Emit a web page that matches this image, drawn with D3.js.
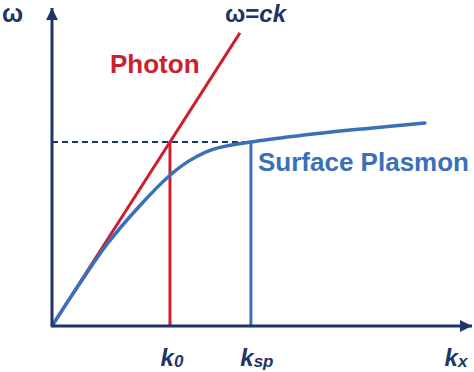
<!DOCTYPE html>
<html>
<head>
<meta charset="utf-8">
<script src="https://cdn.jsdelivr.net/npm/d3@7"></script>
<style>
  body { margin: 0; background: #fff; }
  svg { display: block; font-family: 'Liberation Sans', Arial, sans-serif; }
</style>
</head>
<body>
<div id="chart-area"></div>
<script>
// Dispersion sketch: photon light line vs surface plasmon

const width = 474;
const height = 372;

// Data (k in units of k0, omega in units of omega at the dashed level)
const photonK = [0, 1.593];            // photon line omega = c k, c = 1
const spK = [0, 0.237, 0.466, 0.746, 1.0, 1.169, 1.364, 1.686, 2.076, 2.636, 3.161];
const spW = [0, 0.232, 0.444, 0.655, 0.819, 0.900, 0.960, 1.0, 1.033, 1.071, 1.103];
const markK = [1.0, 1.686];           // k0, ksp
const omegaLevel = 1.0;
const tickNames = ['k', 'k', 'k'];
const tickSubs = ['0', 'sp', 'x'];
const xMax = 3.56;
const yMax = 1.728;

const navy = '#1d3567';
const red = '#c9222d';
const blue = '#3a70b8';

const x = d3.scaleLinear().domain([0, xMax]).range([52, 472]);
const y = d3.scaleLinear().domain([0, yMax]).range([326, 8]);

const svg = d3.select('#chart-area')
    .append('svg')
    .attr('width', width)
    .attr('height', height);

// arrow heads
const defs = svg.append('defs');
defs.append('marker')
    .attr('id', 'arrow')
    .attr('viewBox', '0 0 10 10')
    .attr('refX', 10)
    .attr('refY', 5)
    .attr('markerWidth', 4)
    .attr('markerHeight', 4)
    .attr('markerUnits', 'strokeWidth')
    .attr('orient', 'auto')
    .append('path')
    .attr('d', 'M0,0 L10,5 L0,10 Z')
    .attr('fill', navy);

// dashed level line
svg.append('line')
    .attr('x1', x(0)).attr('x2', x(markK[1]))
    .attr('y1', y(omegaLevel)).attr('y2', y(omegaLevel))
    .attr('stroke', navy)
    .attr('stroke-width', 2)
    .attr('stroke-dasharray', '6,4');

// vertical markers
svg.append('line')
    .attr('x1', x(markK[0])).attr('x2', x(markK[0]))
    .attr('y1', y(0)).attr('y2', y(omegaLevel))
    .attr('stroke', red)
    .attr('stroke-width', 3);

svg.append('line')
    .attr('x1', x(markK[1])).attr('x2', x(markK[1]))
    .attr('y1', y(0)).attr('y2', y(omegaLevel))
    .attr('stroke', blue)
    .attr('stroke-width', 3);

// photon line
svg.append('line')
    .attr('x1', x(photonK[0])).attr('y1', y(photonK[0]))
    .attr('x2', x(photonK[1])).attr('y2', y(photonK[1]))
    .attr('stroke', red)
    .attr('stroke-width', 3);

// surface plasmon curve
const spLine = d3.line()
    .x((d, i) => x(spK[i]))
    .y((d) => y(d))
    .curve(d3.curveCatmullRom.alpha(0.5));

svg.append('path')
    .attr('d', spLine(spW))
    .attr('fill', 'none')
    .attr('stroke', blue)
    .attr('stroke-width', 3.5)
    .attr('stroke-linecap', 'round');

// axes
svg.append('line')
    .attr('x1', x(0)).attr('y1', y(0))
    .attr('x2', x(xMax)).attr('y2', y(0))
    .attr('stroke', navy)
    .attr('stroke-width', 3)
    .attr('marker-end', 'url(#arrow)');

svg.append('line')
    .attr('x1', x(0)).attr('y1', y(0))
    .attr('x2', x(0)).attr('y2', y(yMax))
    .attr('stroke', navy)
    .attr('stroke-width', 3)
    .attr('marker-end', 'url(#arrow)');

// tick labels
const tickX = [x(markK[0]) + 2, x(markK[1]) + 6, 456];
tickNames.forEach((name, i) => {
    const t = svg.append('text')
        .attr('x', tickX[i])
        .attr('y', 366)
        .attr('text-anchor', 'middle')
        .attr('fill', navy);
    t.append('tspan')
        .attr('font-size', '24px')
        .attr('font-weight', 'bold')
        .attr('font-style', 'italic')
        .text(name);
    t.append('tspan')
        .attr('font-size', '17px')
        .attr('font-style', 'italic')
        .attr('font-weight', 'bold')
        .attr('dy', 1)
        .text(tickSubs[i]);
});

// axis / annotation labels
svg.append('text')
    .attr('x', 2)
    .attr('y', 22)
    .attr('font-size', '25px')
    .attr('font-weight', 'bold')
    .attr('fill', navy)
    .text('ω');

const eq = svg.append('text')
    .attr('x', 225)
    .attr('y', 22)
    .attr('font-size', '24px')
    .attr('font-weight', 'bold')
    .attr('fill', navy);
eq.append('tspan').text('ω=');
eq.append('tspan').attr('font-style', 'italic').text('ck');

svg.append('text')
    .attr('x', 110)
    .attr('y', 73)
    .attr('font-size', '26px')
    .attr('font-weight', 'bold')
    .attr('fill', red)
    .text('Photon');

svg.append('text')
    .attr('x', 258)
    .attr('y', 171)
    .attr('font-size', '26px')
    .attr('font-weight', 'bold')
    .attr('fill', blue)
    .text('Surface Plasmon');
</script>
</body>
</html>
